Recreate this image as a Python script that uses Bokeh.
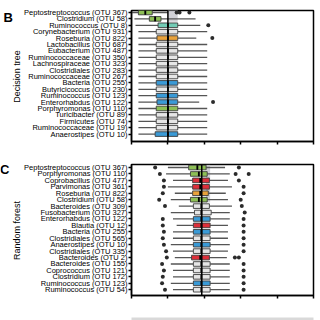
from math import pi

from bokeh.plotting import figure
from bokeh.layouts import column, row
from bokeh.models import Range1d, FixedTicker, Span
from bokeh.core.properties import value
from bokeh.embed import file_html
from bokeh.resources import INLINE

# ---- Panel B: decision tree ----
labels_b = [
    "Peptostreptococcus (OTU 367)", "Clostridium (OTU 58)", "Ruminococcus (OTU 8)",
    "Corynebacterium (OTU 931)", "Roseburia (OTU 822)", "Lactobacillus (OTU 687)",
    "Eubacterium (OTU 487)", "Ruminococcaceae (OTU 350)", "Lachnospiraceae (OTU 323)",
    "Clostridiales (OTU 283)", "Ruminococcaceae (OTU 267)", "Bacteria (OTU 255)",
    "Butyricicoccus (OTU 230)", "Ruminococcus (OTU 123)", "Enterorhabdus (OTU 122)",
    "Porphyromonas (OTU 110)", "Turicibacter (OTU 89)", "Firmicutes (OTU 74)",
    "Ruminococcaceae (OTU 19)", "Anaerostipes (OTU 10)",
]
group_b = ["green", "green", "teal", "gray", "orange", "gray", "gray", "gray", "gray", "gray",
           "gray", "blue", "gray", "blue", "blue", "green", "gray", "gray", "gray", "blue"]
q1_b = [0.19, 0.49, 0.73, 0.68, 0.70, 0.68, 0.68, 0.68, 0.68, 0.68,
        0.68, 0.68, 0.68, 0.68, 0.70, 0.68, 0.68, 0.68, 0.68, 0.65]
med_b = [0.38, 0.65, 1.0, 1.0, 1.0, 1.0, 1.0, 1.0, 1.0, 1.0,
         1.0, 1.0, 1.0, 1.0, 1.0, 1.0, 1.0, 1.0, 1.0, 1.0]
q3_b = [0.57, 0.81, 1.27, 1.27, 1.27, 1.27, 1.27, 1.27, 1.27, 1.27,
        1.27, 1.27, 1.27, 1.27, 1.27, 1.27, 1.27, 1.27, 1.27, 1.27]
lo_b = [0.0, 0.08, 0.11, 0.19, 0.19, 0.19, 0.19, 0.19, 0.19, 0.19,
        0.19, 0.19, 0.19, 0.19, 0.19, 0.19, 0.19, 0.19, 0.19, 0.19]
hi_b = [1.0, 1.76, 1.89, 2.08, 1.78, 2.08, 2.08, 2.08, 2.08, 2.08,
        2.08, 2.08, 2.08, 2.08, 1.86, 2.08, 2.08, 2.08, 2.08, 2.08]
out_row_b = [0, 0, 0, 2, 4, 14]
out_val_b = [1.24, 1.32, 1.59, 2.11, 2.22, 2.24]
ref_b = 1.0
band_b = {"left": [1.0], "right": [1.27], "top_row": [0], "bottom_row": [1]}

# ---- Panel C: random forest ----
labels_c = [
    "Peptostreptococcus (OTU 367)", "Porphyromonas (OTU 110)", "Coprobacillus (OTU 477)",
    "Parvimonas (OTU 361)", "Roseburia (OTU 822)", "Clostridium (OTU 58)",
    "Bacteroides (OTU 309)", "Fusobacterium (OTU 327)", "Enterorhabdus (OTU 122)",
    "Blautia (OTU 12)", "Bacteria (OTU 255)", "Clostridiales (OTU 565)",
    "Anaerostipes (OTU 10)", "Clostridiales (OTU 335)", "Bacteroides (OTU 2)",
    "Bacteroides (OTU 155)", "Coprococcus (OTU 121)", "Clostridium (OTU 172)",
    "Ruminococcus (OTU 123)", "Ruminococcus (OTU 54)",
]
group_c = ["green", "green", "red", "red", "orange", "green", "gray", "gray", "blue", "red",
           "blue", "gray", "blue", "gray", "red", "gray", "gray", "gray", "blue", "gray"]
q1_c = [1.57, 1.62, 1.68, 1.68, 1.68, 1.62, 1.70, 1.73, 1.70, 1.70,
        1.70, 1.70, 1.70, 1.70, 1.65, 1.70, 1.70, 1.70, 1.70, 1.70]
med_c = [1.81, 1.85, 1.89, 1.89, 1.89, 1.85, 1.92, 1.92, 1.92, 1.92,
         1.92, 1.92, 1.92, 1.92, 1.89, 1.92, 1.92, 1.92, 1.92, 1.92]
q3_c = [2.05, 2.08, 2.14, 2.14, 2.11, 2.08, 2.14, 2.19, 2.16, 2.16,
        2.16, 2.16, 2.16, 2.16, 2.14, 2.16, 2.16, 2.16, 2.16, 2.16]
lo_c = [1.0, 0.95, 1.14, 1.0, 1.19, 1.08, 1.30, 1.08, 1.14, 1.24,
        1.14, 1.14, 1.08, 1.14, 1.19, 1.08, 1.14, 1.14, 1.08, 1.14]
hi_c = [2.57, 2.70, 2.65, 2.76, 2.59, 2.65, 2.76, 2.70, 2.70, 2.65,
        2.65, 2.65, 2.70, 2.65, 2.62, 2.70, 2.70, 2.70, 2.70, 2.70]
out_row_c = [0, 0, 1, 1, 1, 2, 2, 3, 3, 4, 4, 5, 5, 6, 6, 7, 8, 8, 9, 9,
             10, 10, 11, 11, 12, 12, 13, 13, 14, 14, 14, 15, 15, 16, 16, 17, 17, 18, 18, 19, 19]
out_val_c = [0.65, 2.95, 0.78, 2.86, 3.22, 0.89, 2.95, 0.89, 3.08, 0.86, 3.08, 0.76, 3.0,
             0.92, 3.03, 3.11, 0.86, 3.08, 0.86, 3.08, 0.89, 3.08, 0.86, 3.08, 0.89, 3.08,
             0.95, 3.08, 0.97, 2.84, 2.95, 0.84, 3.08, 0.89, 3.08, 0.86, 3.08, 0.84, 3.08,
             0.92, 3.08]
ref_c = 1.93
band_c = {"left": [2.05], "right": [2.16], "top_row": [0], "bottom_row": [5]}

x_ticks = [0, 1, 2, 3, 4, 5]

# panel letters and side titles
panel_letters = ["B", "C", "D"]
side_titles = ["Decision tree", "Random forest"]

palette = {
    "green": "#8dbf55",
    "teal": "#72cbb5",
    "orange": "#e9a23b",
    "blue": "#3a9ad6",
    "red": "#dc2f3a",
    "gray": "#e6e6e6",
}

FONT = "Liberation Sans"
STRIP_W = 21


def box_panel(labels, groups, q1, med, q3, lo, hi, out_row, out_val, ref, band,
              y_top, y_bottom, height, border_top, border_bottom):
    n = len(labels)
    rows = list(range(n))
    p = figure(width=320 - STRIP_W, height=height, output_backend="svg", toolbar_location=None,
               x_range=Range1d(0, 5), y_range=Range1d(y_bottom, y_top),
               min_border_left=128 - STRIP_W, min_border_right=7,
               min_border_top=border_top, min_border_bottom=border_bottom)
    p.grid.visible = False
    p.outline_line_color = "black"
    p.outline_line_width = 1.5
    p.background_fill_color = "white"
    p.border_fill_color = "white"

    # shaded band behind the top rows
    p.quad(left=band["left"], right=band["right"],
           top=[b - 0.45 for b in band["top_row"]],
           bottom=[b + 0.45 for b in band["bottom_row"]],
           fill_color="#c4c4cc", fill_alpha=0.8, line_color=None)

    # whiskers
    p.segment(x0=lo, y0=rows, x1=q1, y1=rows, line_color="#555555", line_width=1.3)
    p.segment(x0=q3, y0=rows, x1=hi, y1=rows, line_color="#555555", line_width=1.3)

    # reference line through the medians
    p.add_layout(Span(location=ref, dimension="height", line_color="black", line_width=1.5))

    colors = [palette[g] for g in groups]
    h = 0.36
    p.quad(left=q1, right=med, top=[r - h for r in rows], bottom=[r + h for r in rows],
           fill_color=colors, line_color="#3c3c3c", line_width=0.9)
    p.quad(left=med, right=q3, top=[r - h for r in rows], bottom=[r + h for r in rows],
           fill_color=colors, line_color="#3c3c3c", line_width=0.9)
    p.segment(x0=med, y0=[r - h for r in rows], x1=med, y1=[r + h for r in rows],
              line_color="black", line_width=1.8)

    # outliers
    p.scatter(x=out_val, y=out_row, size=4, fill_color="#2b2b2b", line_color=None)

    # axes: ticks only along the bottom
    p.xaxis.ticker = FixedTicker(ticks=x_ticks)
    p.xaxis.major_label_overrides = {t: "" for t in x_ticks}
    p.xaxis.major_label_standoff = 0
    p.xaxis.major_tick_in = 0
    p.xaxis.major_tick_out = 3
    p.xaxis.minor_tick_line_color = None
    p.xaxis.axis_line_width = 1.5
    p.xaxis.major_tick_line_width = 1.5

    p.yaxis.ticker = FixedTicker(ticks=rows)
    p.yaxis.major_label_overrides = {i: lab for i, lab in enumerate(labels)}
    p.yaxis.major_label_text_font = FONT
    p.yaxis.major_label_text_font_size = "7.5px"
    p.yaxis.major_label_text_color = "black"
    p.yaxis.major_label_standoff = 1
    p.yaxis.major_tick_in = 0
    p.yaxis.major_tick_out = 3
    p.yaxis.minor_tick_line_color = None
    p.yaxis.axis_line_width = 1.5
    p.yaxis.major_tick_line_width = 1.5
    return p


p_b = box_panel(labels_b, group_b, q1_b, med_b, q3_b, lo_b, hi_b, out_row_b, out_val_b,
                ref_b, band_b, -0.31, 20.16, 152, 10, 11)
p_c = box_panel(labels_c, group_c, q1_c, med_c, q3_c, lo_c, hi_c, out_row_c, out_val_c,
                ref_c, band_c, -0.47, 19.9, 153, 12, 10)

# panel D strip at the bottom
p_d = figure(width=320 - STRIP_W, height=15, output_backend="svg", toolbar_location=None,
             x_axis_type=None, y_axis_type=None, x_range=Range1d(0, 5), y_range=Range1d(0, 1),
             min_border_left=128 - STRIP_W, min_border_right=7, min_border_top=12,
             min_border_bottom=0)
p_d.grid.visible = False
p_d.outline_line_color = None
p_d.background_fill_color = "#d9d9d9"
p_d.border_fill_color = "white"

# left strip carrying the panel letters and the rotated side titles (pixel coordinates)
strip = figure(width=STRIP_W, height=320, output_backend="svg", toolbar_location=None,
               x_axis_type=None, y_axis_type=None,
               x_range=Range1d(0, STRIP_W), y_range=Range1d(320, 0),
               min_border_left=0, min_border_right=0, min_border_top=0, min_border_bottom=0)
strip.grid.visible = False
strip.outline_line_color = None
strip.background_fill_color = "white"
strip.border_fill_color = "white"
strip.text(x=[3, -0.5, 2], y=[16.5, 168.5, 327], text=panel_letters,
           text_font=value(FONT), text_font_style="bold", text_font_size="13px",
           text_color="black", text_align="left", text_baseline="alphabetic")
strip.text(x=[16, 16], y=[76, 230], text=side_titles, angle=pi / 2,
           text_font=value(FONT), text_font_size="9px", text_color="black",
           text_align="center", text_baseline="alphabetic")

layout = row(strip, column(p_b, p_c, p_d, spacing=0), spacing=0)
open("out.html", "w").write(file_html(layout, INLINE))
